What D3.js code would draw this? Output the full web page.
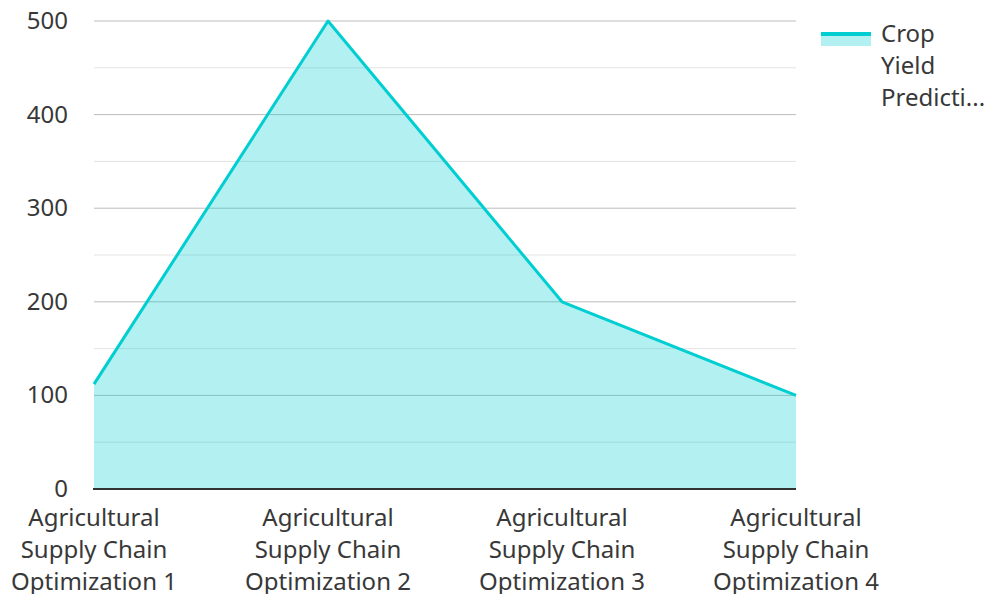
<!DOCTYPE html>
<html>
<head>
<meta charset="utf-8">
<script src="https://cdn.jsdelivr.net/npm/d3@7"></script>
<style>
  body { margin: 0; background: #fff; }
  svg { display: block; font-family: "Noto Sans", "Open Sans", sans-serif; }
</style>
</head>
<body>
<svg></svg>
<script>
const categories = [
  'Agricultural Supply Chain Optimization 1',
  'Agricultural Supply Chain Optimization 2',
  'Agricultural Supply Chain Optimization 3',
  'Agricultural Supply Chain Optimization 4'
];
const values = [112, 500, 200, 100];
const yTicks = [0, 100, 200, 300, 400, 500];
const seriesName = 'Crop Yield Predicti...';

const width = 988, height = 594;
const margin = { top: 21, right: 192, bottom: 105, left: 94 };
const color = '#00ced1';
const textColor = '#383838';
const fontSize = 24;

const svg = d3.select('svg')
  .attr('width', width)
  .attr('height', height);

const x = d3.scalePoint()
  .domain(categories)
  .range([margin.left, width - margin.right]);

const y = d3.scaleLinear()
  .domain([0, 500])
  .range([height - margin.bottom, margin.top]);

// grid, minor then major
svg.append('g')
  .selectAll('line')
  .data(d3.range(50, 500, 100))
  .join('line')
    .attr('x1', margin.left).attr('x2', width - margin.right)
    .attr('y1', d => y(d)).attr('y2', d => y(d))
    .attr('stroke', '#e3e3e3')
    .attr('stroke-width', 1);

svg.append('g')
  .selectAll('line')
  .data(yTicks.slice(1))
  .join('line')
    .attr('x1', margin.left).attr('x2', width - margin.right)
    .attr('y1', d => y(d)).attr('y2', d => y(d))
    .attr('stroke', '#bdbdbd')
    .attr('stroke-width', 1);

const pts = categories.map((c, i) => [c, values[i]]);

svg.append('path')
  .datum(pts)
  .attr('fill', color)
  .attr('fill-opacity', 0.3)
  .attr('d', d3.area().x(d => x(d[0])).y0(y(0)).y1(d => y(d[1])));

svg.append('path')
  .datum(pts)
  .attr('fill', 'none')
  .attr('stroke', color)
  .attr('stroke-width', 3)
  .attr('stroke-linejoin', 'round')
  .attr('d', d3.line().x(d => x(d[0])).y(d => y(d[1])));

// x axis line
svg.append('line')
  .attr('x1', margin.left - 1).attr('x2', width - margin.right)
  .attr('y1', y(0)).attr('y2', y(0))
  .attr('stroke', '#333')
  .attr('stroke-width', 2);

// y tick labels
svg.append('g')
  .selectAll('text')
  .data(yTicks)
  .join('text')
    .attr('x', 68)
    .attr('y', d => y(d) + 8)
    .attr('text-anchor', 'end')
    .attr('fill', textColor)
    .attr('font-size', fontSize)
    .text(d => d);

// x labels, wrapped
const xl = svg.append('g')
  .selectAll('text')
  .data(categories)
  .join('text')
    .attr('x', d => x(d))
    .attr('y', y(0) + 37)
    .attr('text-anchor', 'middle')
    .attr('fill', textColor)
    .attr('font-size', fontSize);

xl.each(function (d) {
  const words = d.split(' ');
  const lines = [words[0], words[1] + ' ' + words[2], words[3] + ' ' + words[4]];
  d3.select(this).selectAll('tspan')
    .data(lines)
    .join('tspan')
      .attr('x', x(d))
      .attr('dy', (l, i) => i ? 32 : 0)
      .text(l => l);
});

// legend
const lg = svg.append('g').attr('transform', 'translate(821,32)');
lg.append('rect')
  .attr('width', 50).attr('height', 14)
  .attr('fill', color).attr('fill-opacity', 0.3);
lg.append('rect')
  .attr('width', 50).attr('height', 4)
  .attr('fill', color);

lg.append('text')
  .attr('x', 60).attr('y', 10)
  .attr('fill', textColor)
  .attr('font-size', fontSize)
  .selectAll('tspan')
  .data(seriesName.split(' '))
  .join('tspan')
    .attr('x', 60)
    .attr('dy', (l, i) => i ? 32 : 0)
    .text(l => l);
</script>
</body>
</html>
